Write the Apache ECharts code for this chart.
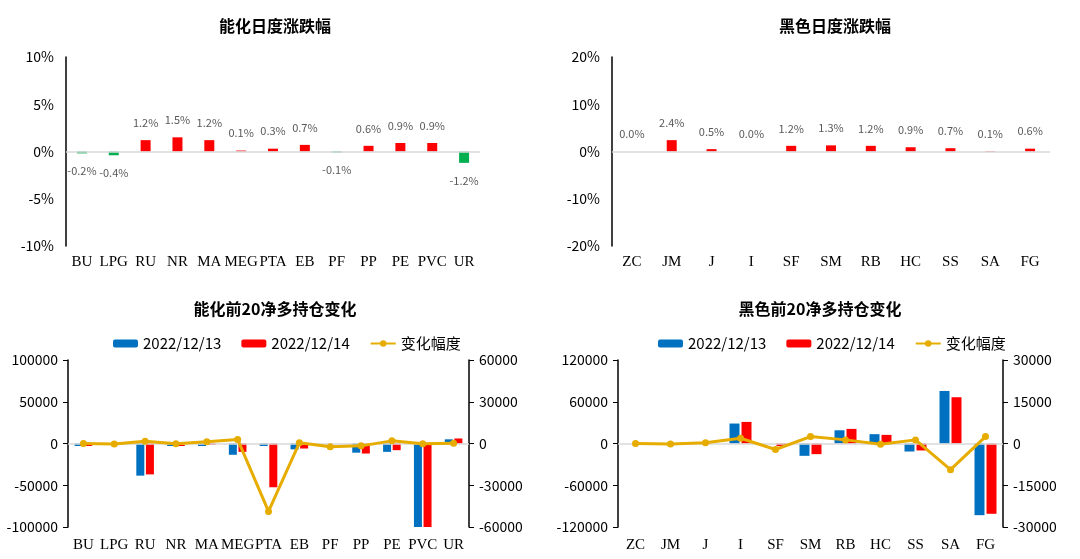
<!DOCTYPE html>
<html><head><meta charset="utf-8">
<script src="https://cdn.jsdelivr.net/npm/echarts@6/dist/echarts.min.js"></script>
<style>html,body{margin:0;padding:0;background:#fff}#c{width:1080px;height:559px}</style>
</head><body><div id="c"></div>
<script>
const chemCats = ['BU','LPG','RU','NR','MA','MEG','PTA','EB','PF','PP','PE','PVC','UR'];
const chemPct = [-0.2,-0.4,1.2,1.5,1.2,0.1,0.3,0.7,-0.1,0.6,0.9,0.9,-1.2];
const blackCats = ['ZC','JM','J','I','SF','SM','RB','HC','SS','SA','FG'];
const blackPct = [0.0,2.4,0.5,0.0,1.2,1.3,1.2,0.9,0.7,0.1,0.6];
const chemD1 = [-3000,-1000,-38500,-3000,-3000,-13500,-3000,-7000,0,-11000,-10000,-100000,5000];
const chemD2 = [-3000,-1500,-37000,-3000,-1500,-10000,-52400,-6000,0,-12000,-8000,-100000,6000];
const chemChg = [0,-300,1700,-200,1200,2900,-48800,500,-2400,-1700,1900,-200,200];
const blackD1 = [0,0,0,28700,0,-17700,19000,13400,-11500,75500,-103000];
const blackD2 = [0,0,0,31000,-3800,-15300,21000,12400,-10000,66500,-101000];
const blackChg = [0,-200,240,1900,-2150,2500,1300,-240,1300,-9400,2500];
const legendNames = ['2022/12/13','2022/12/14','变化幅度'];

const sans = '"Noto Sans CJK SC","Noto Sans",sans-serif';
const serif = '"Liberation Serif","DejaVu Serif",serif';
const ax = {lineStyle:{color:'#000',width:1.5}};
const zeroLine = {silent:true,symbol:'none',label:{show:false},lineStyle:{color:'#d9d9d9',type:'solid',width:1.5},data:[{yAxis:0}]};

function xAx(gi, cats){return {type:'category',gridIndex:gi,data:cats,axisLine:{show:false,onZero:false},axisTick:{show:false},
  axisLabel:{color:'#000',fontFamily:serif,fontSize:15,margin:gi<2?9:11,interval:0}};}
function yAx(gi,min,max,step,fmt,pos){return {type:'value',gridIndex:gi,min,max,interval:step,position:pos||'left',
  axisLine:{show:true,...ax},axisTick:{show:gi>=2,length:5,lineStyle:{color:'#000'}},splitLine:{show:false},
  axisLabel:{color:'#000',fontFamily:sans,fontSize:14,formatter:fmt||(v=>String(v)),margin:gi>=2?10:12}};}
function pctSeries(gi, vals){return {type:'bar',xAxisIndex:gi,yAxisIndex:gi,barWidth:10,
  data:vals.map(v=>({value:v,itemStyle:{color:v<0?'#00B050':'#FF0000'},label:{position:v<0?'bottom':'top'}})),
  label:{show:true,distance:12,color:'#595959',fontSize:11,fontFamily:sans,formatter:p=>p.value.toFixed(1)+'%'},
  markLine:zeroLine,z:3};}

const option = {
  animation:false,
  title:[
    {text:'能化日度涨跌幅',left:270,top:13,textAlign:'center',textStyle:{fontSize:16,fontWeight:'bold',fontFamily:sans,color:'#000'}},
    {text:'黑色日度涨跌幅',left:830,top:13,textAlign:'center',textStyle:{fontSize:16,fontWeight:'bold',fontFamily:sans,color:'#000'}},
    {text:'能化前20净多持仓变化',left:270,top:296,textAlign:'center',textStyle:{fontSize:16,fontWeight:'bold',fontFamily:sans,color:'#000'}},
    {text:'黑色前20净多持仓变化',left:815,top:296,textAlign:'center',textStyle:{fontSize:16,fontWeight:'bold',fontFamily:sans,color:'#000'}}
  ],
  legend:[
    {top:331,left:108,itemWidth:25,itemHeight:8,itemGap:20,data:legendNames,textStyle:{fontSize:15,fontFamily:sans,color:'#000'}},
    {top:331,left:653,itemWidth:25,itemHeight:8,itemGap:20,data:legendNames,textStyle:{fontSize:15,fontFamily:sans,color:'#000'}}
  ],
  grid:[
    {left:66,right:600,top:57,height:189},
    {left:612,right:30,top:57,height:189},
    {left:68,right:611,top:360,bottom:32},
    {left:618,right:77,top:360,bottom:32}
  ],
  xAxis:[xAx(0,chemCats),xAx(1,blackCats),xAx(2,chemCats),xAx(3,blackCats)],
  yAxis:[
    yAx(0,-10,10,5,v=>v+'%'),
    yAx(1,-20,20,10,v=>v+'%'),
    yAx(2,-100000,100000,50000),
    yAx(3,-120000,120000,60000),
    {...yAx(2,-60000,60000,30000,null,'right')},
    {...yAx(3,-30000,30000,15000,null,'right')}
  ],
  series:[
    pctSeries(0,chemPct),
    pctSeries(1,blackPct),
    {name:'2022/12/13',type:'bar',xAxisIndex:2,yAxisIndex:2,data:chemD1,barWidth:8,barGap:'20%',itemStyle:{color:'#0070C0'},markLine:zeroLine},
    {name:'2022/12/14',type:'bar',xAxisIndex:2,yAxisIndex:2,data:chemD2,barWidth:8,barGap:'20%',itemStyle:{color:'#FF0000'}},
    {name:'变化幅度',type:'line',xAxisIndex:2,yAxisIndex:4,data:chemChg,symbol:'circle',symbolSize:7,lineStyle:{color:'#E6AC00',width:3},itemStyle:{color:'#E6AC00'},z:5},
    {name:'2022/12/13',type:'bar',xAxisIndex:3,yAxisIndex:3,data:blackD1,barWidth:10,barGap:'20%',itemStyle:{color:'#0070C0'},markLine:zeroLine},
    {name:'2022/12/14',type:'bar',xAxisIndex:3,yAxisIndex:3,data:blackD2,barWidth:10,barGap:'20%',itemStyle:{color:'#FF0000'}},
    {name:'变化幅度',type:'line',xAxisIndex:3,yAxisIndex:5,data:blackChg,symbol:'circle',symbolSize:7,lineStyle:{color:'#E6AC00',width:3},itemStyle:{color:'#E6AC00'},z:5}
  ]
};
echarts.init(document.getElementById('c')).setOption(option);
</script></body></html>
